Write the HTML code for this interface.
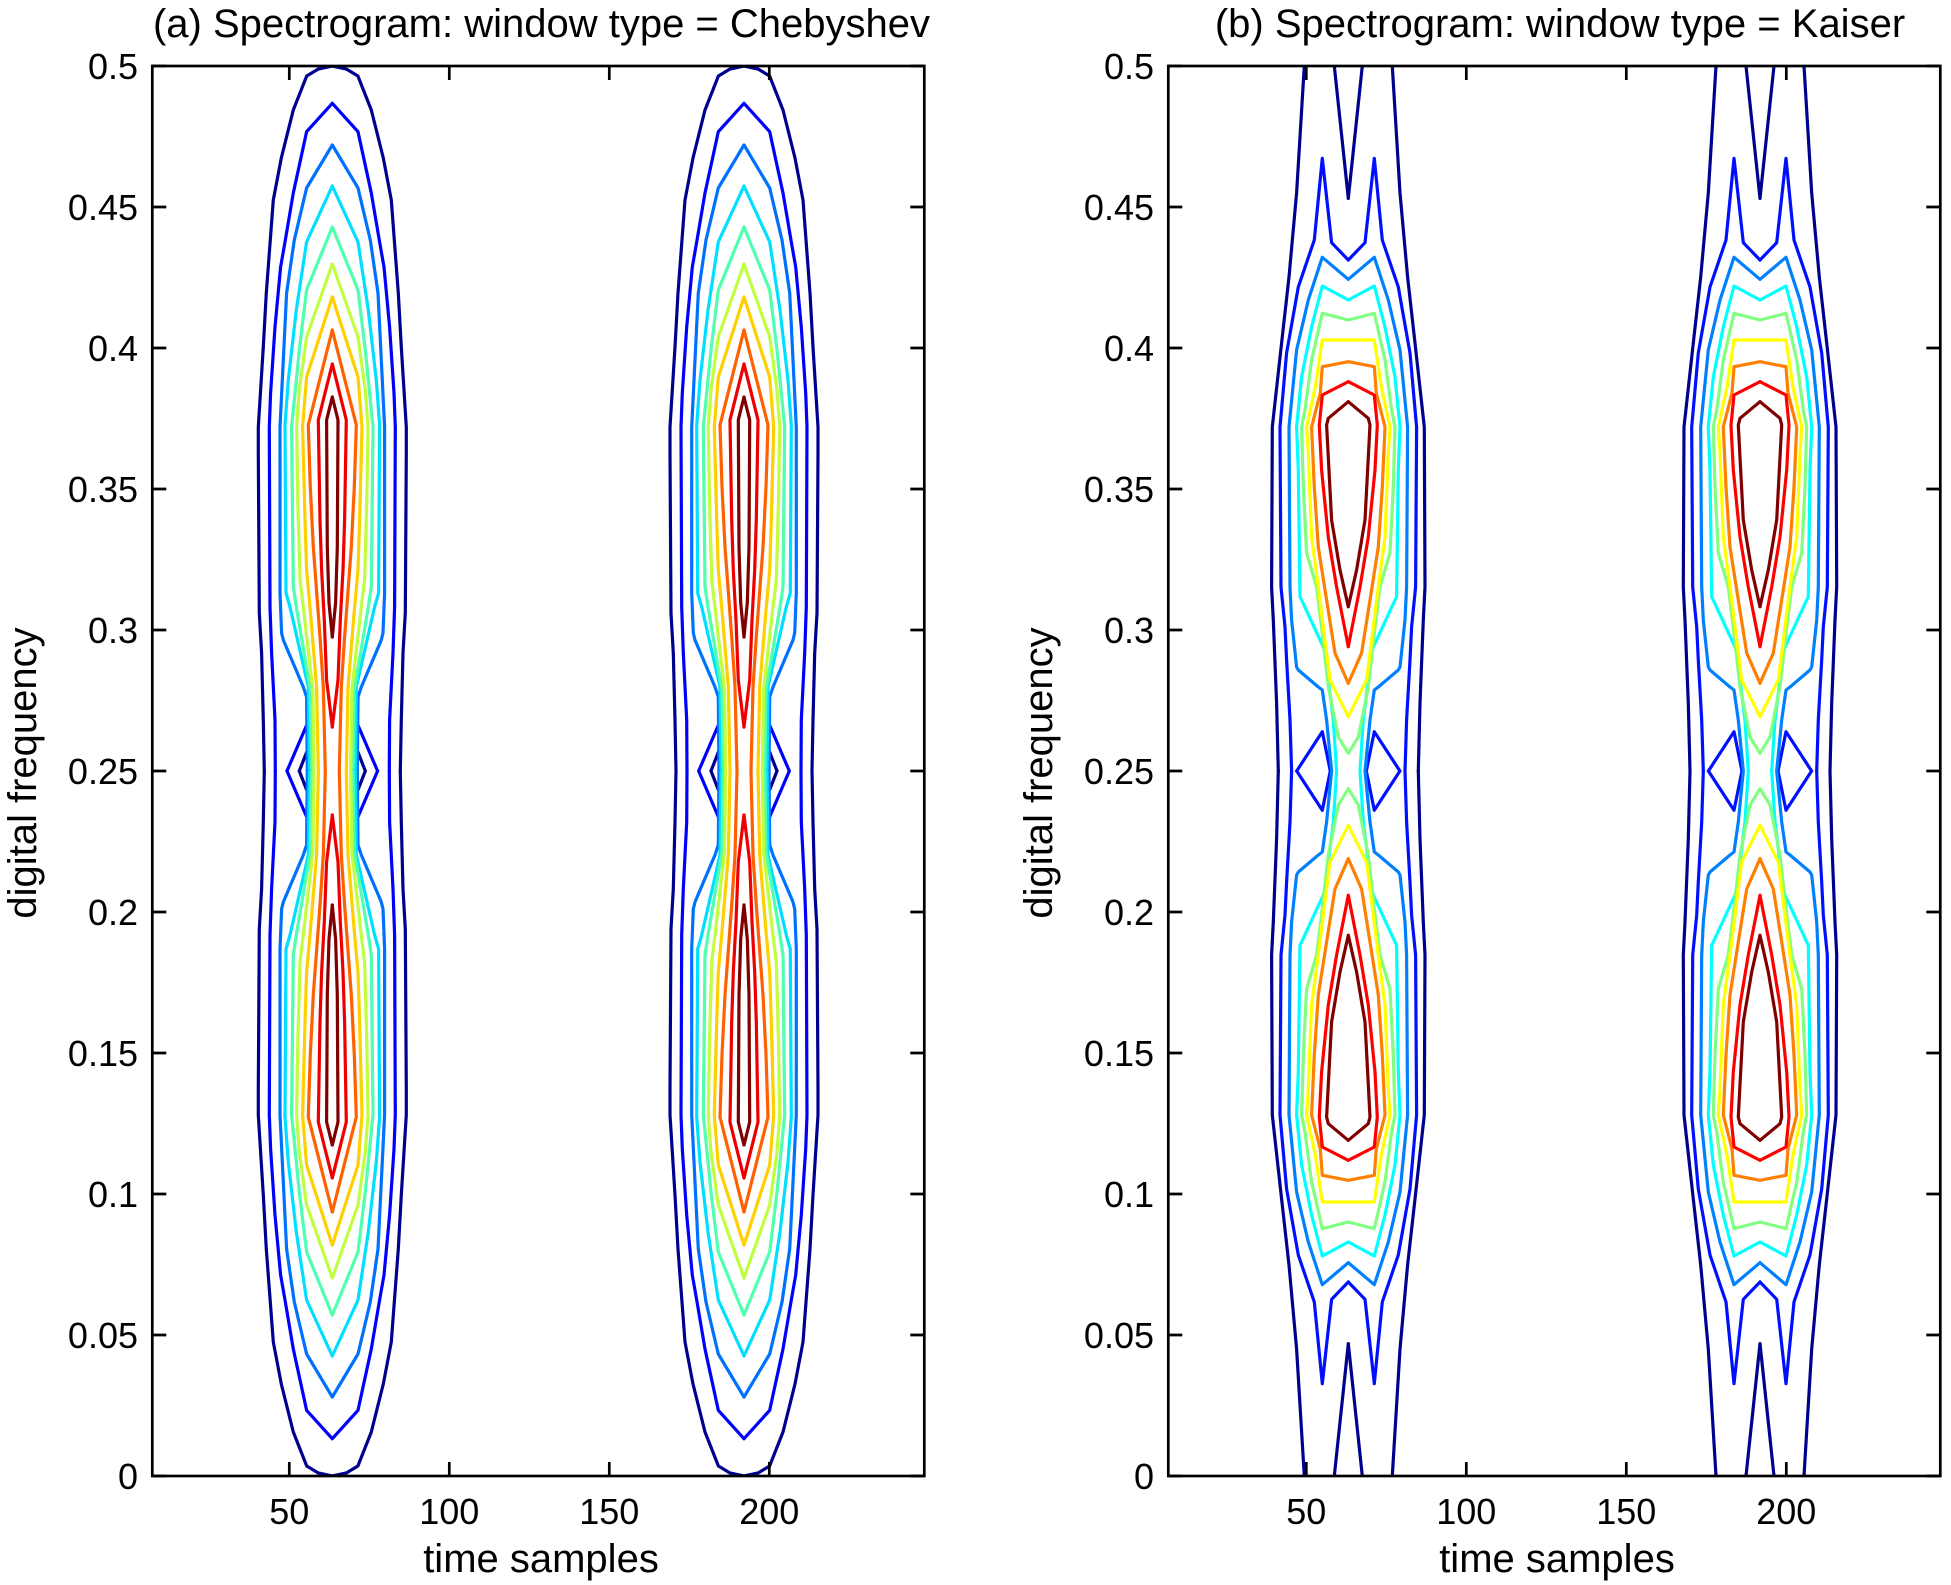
<!DOCTYPE html>
<html>
<head>
<meta charset="utf-8">
<style>
html,body{margin:0;padding:0;background:#fff;}
svg{display:block;}
text{font-family:"Liberation Sans",Arial,sans-serif;fill:#000;}
</style>
</head>
<body>
<svg width="1951" height="1585" viewBox="0 0 1951 1585" xmlns="http://www.w3.org/2000/svg">
<defs>
<clipPath id="ca"><rect x="152.3" y="66" width="772" height="1410"/></clipPath>
<clipPath id="cb"><rect x="1168.3" y="66" width="772" height="1410"/></clipPath>

<g id="qa" fill="none" stroke-width="3.2" stroke-linejoin="round" stroke-linecap="round">
<polyline stroke="#00008F" points="0,-705 -14,-702 -25.6,-695 -39,-661 -51,-613 -59,-571 -66,-478 -69,-424 -74,-344 -74,-318 -73,-158 -70.7,-118 -69,-51 -68,0"/>
<polyline stroke="#00008F" points="-33,0 -25.6,-19 -22,0"/>
<polyline stroke="#0000FF" points="0,-667.7 -25.7,-639.3 -29,-624 -39,-578 -47.3,-529 -51.7,-504 -57.3,-444 -61.7,-378 -63,-344 -62.3,-164 -60.7,-118 -57.3,-51 -57,0"/>
<polyline stroke="#0000FF" points="-45.3,0 -25.6,-46 -22,0"/>
<polyline stroke="#0070FF" points="0,-626 -25.7,-583 -38,-531 -45.7,-478 -52.3,-344 -52.3,-178 -50.7,-138 -49,-131 -29,-84 -25.7,-74 -25,0"/>
<polyline stroke="#00DFFF" points="0,-585 -25.7,-529 -36,-461 -44,-391 -47.3,-346 -46.3,-178 -42.3,-164 -24,-84 -23,0"/>
<polyline stroke="#50FFAF" points="0,-544 -25.7,-481 -33,-421 -40.7,-344 -39,-184 -36,-164 -22,-81 -20.7,0"/>
<polyline stroke="#BFFF40" points="0,-507 -25.7,-434 -33,-381 -35.7,-344 -34.5,-271 -32.3,-191 -29,-164 -19.5,-81 -18.3,0"/>
<polyline stroke="#FFCF00" points="0,-474 -25.7,-394 -29.7,-344 -27.3,-251 -25.7,-201 -22.3,-164 -15.7,-84 -14,0"/>
<polyline stroke="#FF6000" points="0,-441 -24,-346 -22,-284 -19,-224 -12.3,-134 -9,-84 -7,0"/>
<polyline stroke="#EF0000" points="0,-407 -14,-351 -12.3,-251 -10.7,-201 -8,-151 -5.7,-91 0,-44"/>
<polyline stroke="#800000" points="0,-374 -5.7,-351 -5,-224 -3.3,-168 0,-134"/>
</g>
<g id="lobeA">
<use href="#qa"/>
<use href="#qa" transform="scale(-1,1)"/>
<use href="#qa" transform="scale(1,-1)"/>
<use href="#qa" transform="scale(-1,-1)"/>
</g>

<g id="qb" fill="none" stroke-width="3.2" stroke-linejoin="round" stroke-linecap="round">
<polyline stroke="#00008F" points="-44,-705 -51.7,-578 -59.3,-494 -66.7,-428 -76,-344 -76.7,-184 -75,-151 -71.7,-68 -70,0"/>
<polyline stroke="#00008F" points="-14,-705 0,-572.7"/>
<polyline stroke="#0010FF" points="0,-511 -16.7,-528.3 -26,-612.7 -34,-531 -50,-484 -61.7,-418 -68.3,-344 -67.3,-184 -63.3,-144 -61.7,-111 -58.3,-51 -56.7,0"/>
<polyline stroke="#0010FF" points="-51.6,0 -26,-39.3 -18,0"/>
<polyline stroke="#0080FF" points="0,-491.7 -26,-513.7 -40,-471 -51.7,-421 -59.3,-344 -58.3,-184 -56.7,-151 -51.7,-104 -50,-101 -30,-84 -26,-81 -21.7,-51 -16.7,0"/>
<polyline stroke="#00FFFF" points="0,-471 -26,-485 -36.7,-444 -46.7,-394 -51.7,-344 -50,-301 -48.3,-174 -46.7,-171 -25,-124 -23.3,-118 -15,-51 -11.7,0"/>
<polyline stroke="#80FF80" points="0,-451 -26,-457.7 -36.7,-411 -43.3,-361 -46.7,-344 -45,-284 -41.7,-218 -31.7,-184 -26.7,-144 -20,-84 -10,-34 0,-17.7"/>
<polyline stroke="#FFFF00" points="0,-431 -26,-431 -33,-384 -41.7,-344 -40,-318 -36.7,-234 -30,-184 -25,-144 -18.3,-91 0,-54.3"/>
<polyline stroke="#FF8000" points="0,-409.3 -26,-404.3 -28,-378 -36.7,-344 -34,-284 -30,-224 -21.7,-171 -13.3,-118 0,-87.7"/>
<polyline stroke="#FF0000" points="0,-389.3 -26,-376 -29,-346 -26.7,-301 -20,-234 -11.7,-184 0,-124.3"/>
<polyline stroke="#800000" points="0,-369.3 -20,-352.7 -21.7,-346 -16.7,-251 -8.3,-201 0,-164.3"/>
</g>
<g id="lobeB">
<use href="#qb"/>
<use href="#qb" transform="scale(-1,1)"/>
<use href="#qb" transform="scale(1,-1)"/>
<use href="#qb" transform="scale(-1,-1)"/>
</g>
</defs>

<rect x="0" y="0" width="1951" height="1585" fill="#fff"/>

<!-- Panel (a) contours -->
<g clip-path="url(#ca)">
<use href="#lobeA" transform="translate(332.3,771)"/>
<use href="#lobeA" transform="translate(744,771)"/>
</g>

<!-- Panel (b) contours -->
<g clip-path="url(#cb)">
<use href="#lobeB" transform="translate(1348.3,771)"/>
<use href="#lobeB" transform="translate(1760,771)"/>
</g>

<!-- Axes (a) -->
<g stroke="#000" stroke-width="2.7" fill="none">
<rect x="152.3" y="66" width="772" height="1410"/>
<path d="M289.3 1476v-14M449.3 1476v-14M609.3 1476v-14M769.3 1476v-14
M289.3 66v14M449.3 66v14M609.3 66v14M769.3 66v14
M152.3 1476h14M152.3 1335h14M152.3 1194h14M152.3 1053h14M152.3 912h14M152.3 771h14M152.3 630h14M152.3 489h14M152.3 348h14M152.3 207h14M152.3 66h14
M924.3 1476h-14M924.3 1335h-14M924.3 1194h-14M924.3 1053h-14M924.3 912h-14M924.3 771h-14M924.3 630h-14M924.3 489h-14M924.3 348h-14M924.3 207h-14M924.3 66h-14"/>
</g>

<!-- Axes (b) -->
<g stroke="#000" stroke-width="2.7" fill="none">
<rect x="1168.3" y="66" width="772" height="1410"/>
<path d="M1306.3 1476v-14M1466.3 1476v-14M1626.3 1476v-14M1786.3 1476v-14
M1306.3 66v14M1466.3 66v14M1626.3 66v14M1786.3 66v14
M1168.3 1476h14M1168.3 1335h14M1168.3 1194h14M1168.3 1053h14M1168.3 912h14M1168.3 771h14M1168.3 630h14M1168.3 489h14M1168.3 348h14M1168.3 207h14M1168.3 66h14
M1940.3 1476h-14M1940.3 1335h-14M1940.3 1194h-14M1940.3 1053h-14M1940.3 912h-14M1940.3 771h-14M1940.3 630h-14M1940.3 489h-14M1940.3 348h-14M1940.3 207h-14M1940.3 66h-14"/>
</g>

<!-- Tick labels (a) -->
<g font-size="36" text-anchor="middle">
<text x="289.3" y="1524">50</text>
<text x="449.3" y="1524">100</text>
<text x="609.3" y="1524">150</text>
<text x="769.3" y="1524">200</text>
<text x="1306.3" y="1524">50</text>
<text x="1466.3" y="1524">100</text>
<text x="1626.3" y="1524">150</text>
<text x="1786.3" y="1524">200</text>
</g>
<g font-size="36" text-anchor="end">
<text x="138" y="1489">0</text>
<text x="138" y="1348">0.05</text>
<text x="138" y="1207">0.1</text>
<text x="138" y="1066">0.15</text>
<text x="138" y="925">0.2</text>
<text x="138" y="784">0.25</text>
<text x="138" y="643">0.3</text>
<text x="138" y="502">0.35</text>
<text x="138" y="361">0.4</text>
<text x="138" y="220">0.45</text>
<text x="138" y="79">0.5</text>
<text x="1154" y="1489">0</text>
<text x="1154" y="1348">0.05</text>
<text x="1154" y="1207">0.1</text>
<text x="1154" y="1066">0.15</text>
<text x="1154" y="925">0.2</text>
<text x="1154" y="784">0.25</text>
<text x="1154" y="643">0.3</text>
<text x="1154" y="502">0.35</text>
<text x="1154" y="361">0.4</text>
<text x="1154" y="220">0.45</text>
<text x="1154" y="79">0.5</text>
</g>

<!-- Titles and labels -->
<g font-size="40" text-anchor="middle">
<text x="541.5" y="37">(a) Spectrogram: window type = Chebyshev</text>
<text x="1560" y="37">(b) Spectrogram: window type = Kaiser</text>
<text x="541" y="1572">time samples</text>
<text x="1557" y="1572">time samples</text>
<text transform="translate(36,773) rotate(-90)">digital frequency</text>
<text transform="translate(1052,773) rotate(-90)">digital frequency</text>
</g>
</svg>
</body>
</html>
